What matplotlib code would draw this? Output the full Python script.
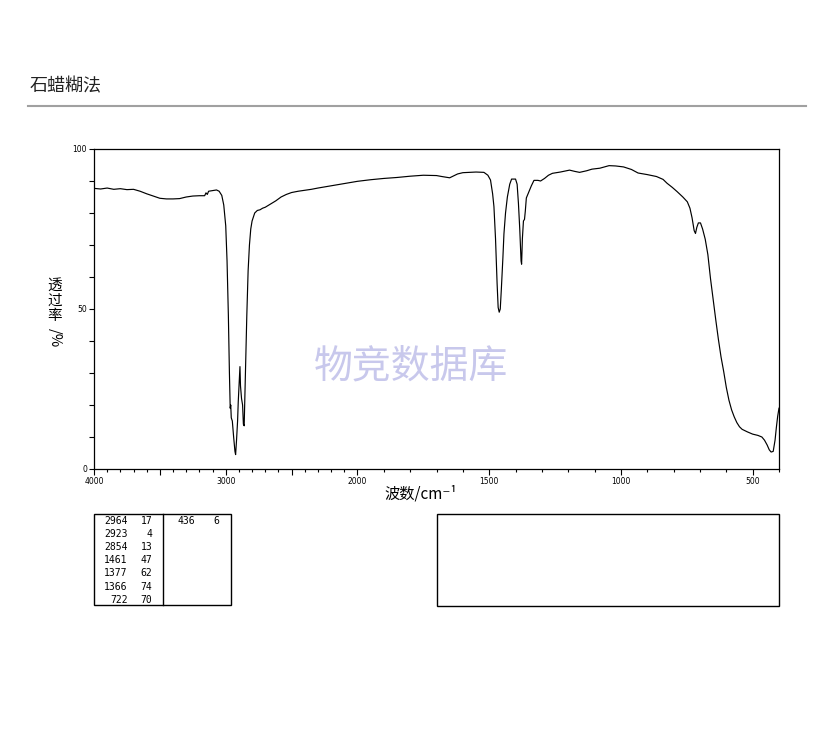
import numpy as np
import matplotlib
matplotlib.use("Agg")
import matplotlib.pyplot as plt
from matplotlib.patches import Rectangle
from matplotlib.lines import Line2D
from matplotlib.ticker import FixedLocator, FuncFormatter

# ---------------- data ----------------
wavenumber = [4000, 3950, 3900, 3850, 3800, 3750, 3700, 3650, 3600, 3550, 3500, 3450, 3400,
              3350, 3300, 3250, 3200, 3160, 3150, 3140, 3130, 3100, 3070, 3050, 3030, 3015,
              3000, 2990, 2980, 2972, 2966, 2962, 2958, 2950, 2940, 2930, 2925, 2918, 2910,
              2905, 2895, 2892, 2888, 2880, 2872, 2866, 2860, 2855, 2848, 2840, 2830, 2820,
              2810, 2800, 2780, 2760, 2740, 2720, 2700, 2660, 2620, 2580, 2540, 2500, 2450,
              2400, 2350, 2300, 2200, 2100, 2000, 1950, 1900, 1850, 1800, 1750, 1700, 1680,
              1650, 1620, 1600, 1550, 1520, 1505, 1495, 1487, 1482, 1476, 1470, 1466, 1462,
              1458, 1454, 1448, 1444, 1438, 1431, 1422, 1415, 1400, 1394, 1389, 1384, 1379,
              1377, 1374, 1370, 1366, 1363, 1359, 1350, 1340, 1330, 1315, 1305, 1290, 1275,
              1260, 1230, 1195, 1175, 1157, 1130, 1110, 1080, 1045, 1020, 990, 960, 935, 900,
              865, 840, 825, 805, 787, 765, 748, 738, 730, 722, 717, 712, 706, 698, 690, 680,
              670, 660, 650, 640, 630, 620, 610, 600, 590, 580, 570, 560, 550, 540, 520, 500,
              480, 465, 455, 445, 437, 430, 422, 415, 410, 405, 400]
transmittance = [87.7, 87.5, 87.8, 87.4, 87.6, 87.3, 87.4, 86.8, 86.0, 85.3, 84.6, 84.4, 84.4,
                 84.5, 85.0, 85.3, 85.4, 85.4, 86.3, 85.8, 86.8, 87.0, 87.2, 86.8, 85.5, 82.5,
                 76.0, 65.0, 48.0, 30.0, 19.0, 20.0, 16.0, 15.0, 10.0, 5.5, 4.5, 9.0, 15.0,
                 21.0, 30.0, 32.0, 26.0, 22.0, 20.0, 14.0, 13.5, 22.0, 35.0, 48.0, 62.0, 70.0,
                 75.0, 77.5, 80.0, 80.8, 81.0, 81.5, 81.8, 82.8, 83.8, 85.0, 85.8, 86.4, 86.8,
                 87.1, 87.4, 87.8, 88.5, 89.2, 89.9, 90.4, 90.8, 91.1, 91.5, 91.8, 91.7, 91.4,
                 91.0, 92.2, 92.6, 92.8, 92.7, 91.8, 90.3, 86.0, 82.0, 72.0, 58.0, 50.5, 49.0,
                 50.0, 56.0, 66.0, 73.5, 80.0, 85.0, 89.0, 90.6, 90.6, 89.0, 83.0, 75.0, 65.0,
                 64.0, 72.0, 77.5, 78.0, 80.5, 84.7, 86.5, 88.5, 90.2, 90.2, 90.0, 90.8, 91.8,
                 92.4, 92.8, 93.4, 93.0, 92.7, 93.2, 93.7, 94.0, 94.8, 94.7, 94.4, 93.6, 92.5, 92.0,
                 91.4, 90.5, 89.3, 88.0, 86.7, 85.0, 83.5, 81.5, 78.5, 74.5, 73.6, 75.5, 76.9, 76.9,
                 75.0, 71.8, 67.0, 59.5, 53.0, 46.6, 40.5, 35.0, 30.5, 25.5, 21.5, 18.5, 16.3, 14.5,
                 13.2, 12.4, 11.6, 10.9, 10.5, 10.0, 9.0, 7.5, 6.0, 5.3, 5.5, 9.0, 13.0, 16.5, 19.0]

peak_wn = [2964, 2923, 2854, 1461, 1377, 1366, 722, 436]
peak_t = [17, 4, 13, 47, 62, 74, 70, 6]

x_major = [4000, 3500, 3000, 2500, 2000, 1500, 1000, 500]
x_labeled = [4000, 3000, 2000, 1500, 1000, 500]
y_labeled = [0, 50, 100]

title = "石蜡糊法"
watermark = "物竞数据库"
xlabel = "波数/cm⁻¹"

# ---------------- figure ----------------
W, H = 822, 737
fig = plt.figure(figsize=(W / 100, H / 100), dpi=100)
fig.patch.set_facecolor("white")


def fx(x):
    return x / W


def fy(y):
    return 1 - y / H


CJK = ["Noto Sans CJK SC", "DejaVu Sans"]

ax = fig.add_axes([fx(94), fy(469), fx(779) - fx(94), fy(149) - fy(469)])


def fwd(x):
    x = np.asarray(x, dtype=float)
    return np.where(x >= 2000, x / 2 + 1000, x)


def inv(u):
    u = np.asarray(u, dtype=float)
    return np.where(u >= 2000, (u - 1000) * 2, u)


ax.set_xscale("function", functions=(fwd, inv))
ax.plot(wavenumber, transmittance, color="black", lw=0.85)
ax.set_xlim(4000, 400)
ax.set_ylim(0, 100)

ax.xaxis.set_major_locator(FixedLocator(x_major))
ax.xaxis.set_minor_locator(FixedLocator([v for v in range(400, 4001, 100) if v not in x_major]))
ax.xaxis.set_major_formatter(FuncFormatter(lambda v, p: f"{int(round(v))}" if int(round(v)) in x_labeled else ""))
ax.yaxis.set_major_locator(FixedLocator(y_labeled))
ax.yaxis.set_minor_locator(FixedLocator([v for v in range(0, 101, 10) if v not in y_labeled]))
ax.yaxis.set_major_formatter(FuncFormatter(lambda v, p: f"{int(round(v))}"))

ax.tick_params(axis="x", which="major", direction="out", length=4.5, width=0.8, labelsize=5.5, pad=1.5)
ax.tick_params(axis="x", which="minor", direction="out", length=2.5, width=0.8)
ax.tick_params(axis="y", which="both", direction="out", length=3.5, width=0.8, labelsize=5.5, pad=1.5)
for s in ax.spines.values():
    s.set_linewidth(0.9)
    s.set_color("black")

# watermark
fig.text(fx(411), fy(368), watermark, color="#c8c8ec", fontsize=28, family=CJK,
         ha="center", va="center", zorder=0)

# title and divider line
fig.text(fx(30), fy(86), title, fontsize=13, family=CJK, ha="left", va="center", color="#222222")
fig.add_artist(Line2D([fx(28), fx(806)], [fy(106), fy(106)], color="#a0a0a0", lw=1.5))

# axis labels
fig.text(fx(421), fy(494), xlabel, fontsize=11, family=CJK, ha="center", va="center")
for ch, yc in zip("透过率", [285.5, 301, 316]):
    fig.text(fx(55), fy(yc), ch, fontsize=10.5, family=CJK, ha="center", va="center")
fig.text(fx(55), fy(337.5), "/%", fontsize=10.5, family=CJK, ha="center", va="center", rotation=-90)

# tables
fig.add_artist(Rectangle((fx(94), fy(605)), fx(231) - fx(94), fy(514) - fy(605),
                         fill=False, ec="black", lw=1.0, transform=fig.transFigure))
fig.add_artist(Line2D([fx(163), fx(163)], [fy(514), fy(605)], color="black", lw=1.0))
fig.add_artist(Rectangle((fx(437), fy(605.5)), fx(779) - fx(437), fy(513.5) - fy(605.5),
                         fill=False, ec="black", lw=1.0, transform=fig.transFigure))

for i, (w, t) in enumerate(zip(peak_wn, peak_t)):
    col = i // 7
    row = i % 7
    yy = 521 + 13.1 * row
    xw = 127.5 if col == 0 else 195
    xt = 152.5 if col == 0 else 219.5
    fig.text(fx(xw), fy(yy), str(w), fontsize=7, family="DejaVu Sans Mono", ha="right", va="center")
    fig.text(fx(xt), fy(yy), str(t), fontsize=7, family="DejaVu Sans Mono", ha="right", va="center")

fig.savefig("out.png", dpi=100, facecolor="white")
